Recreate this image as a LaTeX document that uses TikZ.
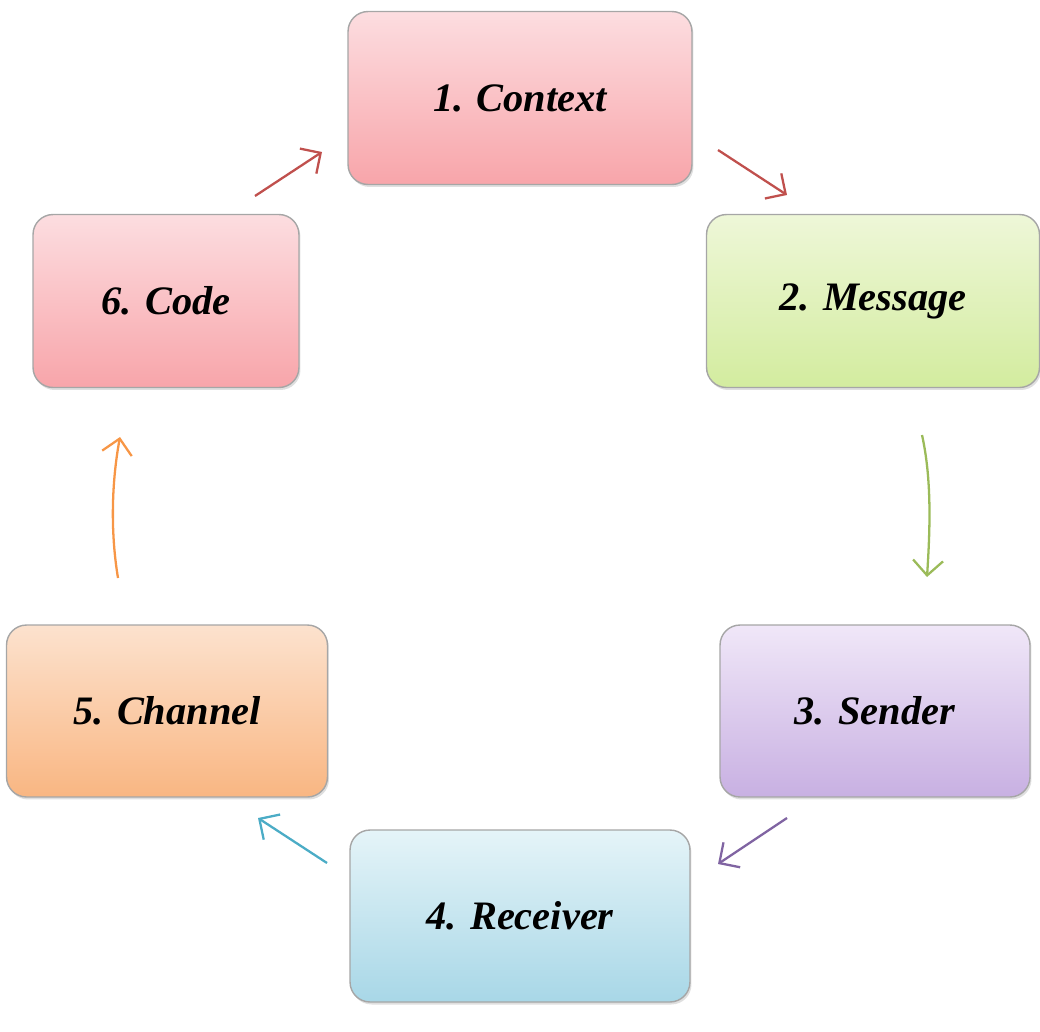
\documentclass[tikz,border=0pt]{standalone}
\usepackage{fontspec}
\setmainfont{Liberation Serif}
\usetikzlibrary{arrows.meta,shadows}
\definecolor{pkT}{HTML}{FCDDE0}\definecolor{pkB}{HTML}{F8A5AA}
\definecolor{grT}{HTML}{EEF7D8}\definecolor{grB}{HTML}{D3EC9F}
\definecolor{puT}{HTML}{F0E7F8}\definecolor{puB}{HTML}{C8B0E2}
\definecolor{blT}{HTML}{E5F4F8}\definecolor{blB}{HTML}{A8D7E7}
\definecolor{orT}{HTML}{FCE2CE}\definecolor{orB}{HTML}{F9B682}
\definecolor{aRed}{HTML}{C0504D}\definecolor{aGreen}{HTML}{9BBB59}
\definecolor{aPurple}{HTML}{8064A2}\definecolor{aTeal}{HTML}{4BACC6}
\definecolor{aOrange}{HTML}{F79646}
\begin{document}
\begin{tikzpicture}[x=0.02cm,y=-0.02cm,
 box/.style={draw=black!35,line width=0.8pt,rounded corners=0.4cm,
   drop shadow={shadow xshift=0.03cm,shadow yshift=-0.05cm,opacity=0.25},
   font=\fontsize{23}{28}\selectfont\bfseries\itshape},
 arr/.style={line width=1.3pt,-{Straight Barb[length=0.3cm,width=0.6cm,line width=1.3pt]}}]
\useasboundingbox (0,0) rectangle (1040,1031);
\newcommand{\mybox}[7]{%
 \node[box,top color=#6,bottom color=#7,minimum width=#4*0.02cm,minimum height=#5*0.02cm] (#1) at (#2,#3) {};
 \node at (#1) {\fontsize{23}{28}\selectfont\bfseries\itshape\strut};}
\node[box,top color=pkT,bottom color=pkB,minimum width=6.88cm,minimum height=3.46cm] (c1) at (520,98) {1. Context};
\node[box,top color=grT,bottom color=grB,minimum width=6.66cm,minimum height=3.46cm] (c2) at (873,301) {2. Message};
\node[box,top color=puT,bottom color=puB,minimum width=6.2cm,minimum height=3.44cm] (c3) at (875,711) {3. Sender};
\node[box,top color=blT,bottom color=blB,minimum width=6.8cm,minimum height=3.44cm] (c4) at (520,916) {4. Receiver};
\node[box,top color=orT,bottom color=orB,minimum width=6.42cm,minimum height=3.44cm] (c5) at (167,711) {5. Channel};
\node[box,top color=pkT,bottom color=pkB,minimum width=5.32cm,minimum height=3.46cm] (c6) at (166,301) {6. Code};
\coordinate (a1s) at (255,196); \coordinate (a1e) at (322,152);
\coordinate (a2s) at (718,150); \coordinate (a2e) at (787,195);
\coordinate (a3s) at (922,435); \coordinate (a3e) at (927,577);
\coordinate (a4s) at (787,818); \coordinate (a4e) at (718,864);
\coordinate (a5s) at (327,863); \coordinate (a5e) at (258,818);
\coordinate (a6s) at (118,578); \coordinate (a6e) at (120,437);
\draw[arr,aRed] (a1s) -- (a1e);
\draw[arr,aRed] (a2s) -- (a2e);
\draw[arr,aGreen] (a3s) .. controls (932,480) and (930,530) .. (a3e);
\draw[arr,aPurple] (a4s) -- (a4e);
\draw[arr,aTeal] (a5s) -- (a5e);
\draw[arr,aOrange] (a6s) .. controls (110,530) and (112,480) .. (a6e);
\end{tikzpicture}
\end{document}
